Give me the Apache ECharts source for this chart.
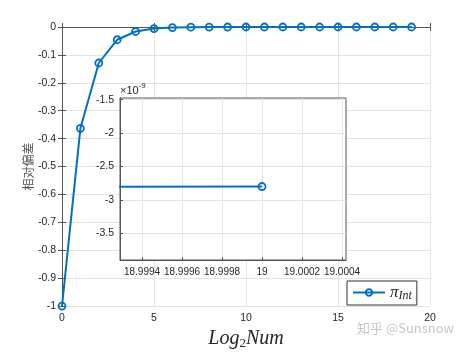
<!DOCTYPE html>
<html><head><meta charset="utf-8">
<script src="https://cdn.jsdelivr.net/npm/echarts@6/dist/echarts.min.js"></script>
<style>html,body{margin:0;padding:0;background:#fff}#c{width:474px;height:355px}</style>
</head><body><div id="c"></div>
<script>
// ---- data ----
const xLog2Num = [0,1,2,3,4,5,6,7,8,9,10,11,12,13,14,15,16,17,18,19];
const relErr = [-1, -0.363, -0.129, -0.0456, -0.0161, -0.0057, -0.0020, -0.00071, -0.00025, -0.000089,
  -0.000031, -0.000011, -0.0000039, -0.0000014, -4.9e-7, -1.7e-7, -6.1e-8, -2.2e-8, -7.7e-9, -2.8e-9];
const mainXTicks = [0, 5, 10, 15, 20];
const mainYTicks = [-1, -0.9, -0.8, -0.7, -0.6, -0.5, -0.4, -0.3, -0.2, -0.1, 0];
const insetXTicks = [18.9994, 18.9996, 18.9998, 19, 19.0002, 19.0004];
const insetYTicks = [-3.5, -3, -2.5, -2, -1.5];
const insetXRange = [18.99929, 19.00042];
const insetYRange = [-3.9, -1.475];
const insetScale = 1e9;   // inset y axis in units of 1e-9
const seriesName = 'pi_Int';

const C = '#0072BD';
const AX = '#555';
const GRIDC = '#e3e3e3';
const LBL = {color: '#262626', fontSize: 10.5, fontFamily: 'Liberation Sans, Arial, sans-serif'};
const LBLS = {color: '#262626', fontSize: 10, fontFamily: 'Liberation Sans, Arial, sans-serif'};

const mainData = xLog2Num.map((x, i) => [x, relErr[i]]);
const insetData = xLog2Num.slice(-2).map((x, i) => [x, relErr[relErr.length - 2 + i] * insetScale]);

const chart = echarts.init(document.getElementById('c'), null, {renderer: 'canvas'});
const seriesCommon = {
  type: 'line', symbol: 'circle', symbolSize: 7, showSymbol: true,
  lineStyle: {color: C, width: 2},
  itemStyle: {color: 'rgba(255,255,255,0)', borderColor: C, borderWidth: 1.8},
  emphasis: {disabled: true}, animation: false
};
chart.setOption({
  animation: false,
  grid: [
    {left: 62, right: 44, top: 27, bottom: 41, show: false, containLabel: false},
    {left: 120, top: 98, width: 226, height: 162, show: true, backgroundColor: '#fff',
     borderColor: AX, borderWidth: 1, z: 5}
  ],
  xAxis: [
    {gridIndex: 0, type: 'value', min: 0, max: 20, interval: 5, position: 'bottom',
     axisLine: {lineStyle: {color: AX}}, axisTick: {inside: true, length: 4, lineStyle: {color: AX}},
     axisLabel: Object.assign({margin: 7}, LBL),
     splitLine: {show: true, lineStyle: {color: GRIDC}},
     name: '{i|Log}{s|2}{i|Num}', nameLocation: 'middle', nameGap: 16,
     nameTextStyle: {rich: {
       i: {fontFamily: 'Liberation Serif, serif', fontStyle: 'italic', fontSize: 20, color: '#262626'},
       s: {fontFamily: 'Liberation Serif, serif', fontSize: 13, color: '#262626', padding: [9, 0, 0, 0]}
     }}},
    {gridIndex: 0, type: 'value', min: 0, max: 20, interval: 5, position: 'top',
     axisLine: {lineStyle: {color: AX}}, axisTick: {inside: true, length: 4, lineStyle: {color: AX}},
     axisLabel: {show: false}, splitLine: {show: false}},
    {gridIndex: 1, type: 'value', min: insetXRange[0], max: insetXRange[1], z: 6,
     axisLine: {lineStyle: {color: AX}},
     axisTick: {inside: true, length: 3, lineStyle: {color: AX}, customValues: insetXTicks},
     axisLabel: Object.assign({margin: 7, customValues: insetXTicks,
       formatter: v => String(+(+v).toFixed(4))}, LBLS),
     splitLine: {show: true, lineStyle: {color: GRIDC}}}
  ],
  yAxis: [
    {gridIndex: 0, type: 'value', min: -1, max: 0, interval: 0.1, position: 'left',
     axisLine: {lineStyle: {color: AX}}, axisTick: {inside: true, length: 4, lineStyle: {color: AX}},
     axisLabel: Object.assign({margin: 6, formatter: v => String(+(+v).toFixed(1))}, LBL),
     splitLine: {show: true, lineStyle: {color: GRIDC}},
     name: '相对偏差', nameLocation: 'middle', nameRotate: 90, nameGap: 28, nameMoveOverlap: false,
     nameTextStyle: {fontFamily: 'Noto Sans CJK SC', fontSize: 12, color: '#555'}},
    {gridIndex: 0, type: 'value', min: -1, max: 0, interval: 0.1, position: 'right',
     axisLine: {lineStyle: {color: AX}}, axisTick: {inside: true, length: 4, lineStyle: {color: AX}},
     axisLabel: {show: false}, splitLine: {show: false}},
    {gridIndex: 1, type: 'value', min: insetYRange[0], max: insetYRange[1], z: 6,
     axisLine: {lineStyle: {color: AX}},
     axisTick: {inside: true, length: 3, lineStyle: {color: AX}, customValues: insetYTicks},
     axisLabel: Object.assign({margin: 6, customValues: insetYTicks,
       formatter: v => String(+(+v).toFixed(1))}, LBL),
     splitLine: {show: true, lineStyle: {color: GRIDC}},
     name: '{a|×10}{b|-9}', nameLocation: 'end', nameGap: 2,
     nameTextStyle: {align: 'left', rich: {
       a: {fontSize: 11, color: '#262626', fontFamily: 'Liberation Sans, Arial, sans-serif', padding: [4, 0, 0, 0]},
       b: {fontSize: 8, color: '#262626', fontFamily: 'Liberation Sans, Arial, sans-serif', padding: [0, 0, 6, 0]}
     }}}
  ],
  legend: {
    left: 347, top: 281, orient: 'horizontal', data: [seriesName],
    itemWidth: 32, itemHeight: 8, itemGap: 4, padding: [3, 5, 3, 5],
    borderColor: '#333', borderWidth: 1, backgroundColor: '#fff', borderRadius: 0,
    formatter: () => '{p|π}{s|Int}',
    textStyle: {rich: {
      p: {fontFamily: 'Liberation Serif, serif', fontStyle: 'italic', fontSize: 17, color: '#262626'},
      s: {fontFamily: 'Liberation Serif, serif', fontStyle: 'italic', fontSize: 12, color: '#262626', padding: [7, 0, 0, 0]}
    }},
    selectedMode: false, z: 10
  },
  graphic: [
    {type: 'text', left: 357, top: 322, z: 20,
     style: {text: '知乎 @Sunsnow', fontSize: 13, fill: '#c6c6c6', fontFamily: 'Noto Sans CJK SC'}}
  ],
  series: [
    Object.assign({}, seriesCommon, {name: seriesName, xAxisIndex: 0, yAxisIndex: 0, data: mainData, clip: false, z: 3}),
    Object.assign({}, seriesCommon, {name: seriesName + '_inset', xAxisIndex: 2, yAxisIndex: 2, data: insetData, clip: true, z: 8})
  ]
});
</script>
</body></html>
